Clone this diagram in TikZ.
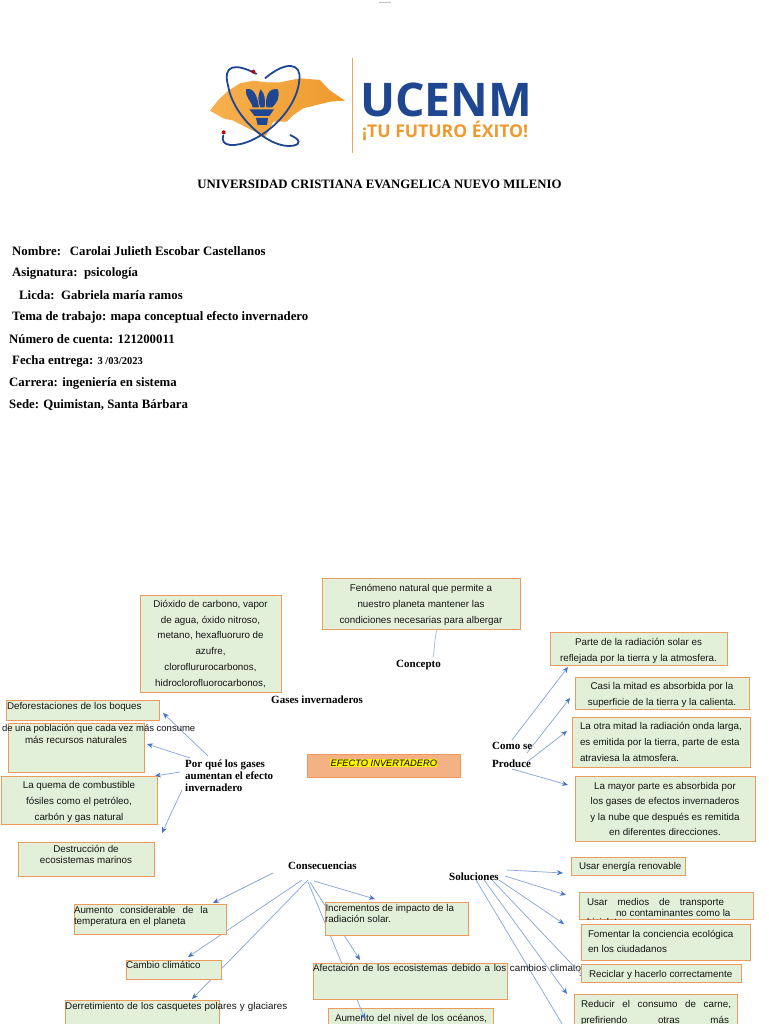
\documentclass[tikz,border=0pt]{standalone}
\usepackage{fontspec}
\setmainfont{Liberation Serif}
\newfontfamily\arialf{Liberation Sans}
\newfontfamily\logof{Open Sans}
\usetikzlibrary{arrows.meta}
\definecolor{boxfill}{HTML}{E2EFD9}
\definecolor{boxline}{HTML}{EE9A5D}
\definecolor{mainfill}{HTML}{F4B183}
\definecolor{arrowline}{HTML}{86A3DA}
\definecolor{arrowtip}{HTML}{4472C4}
\definecolor{logoblue}{HTML}{1F4690}
\definecolor{logoorange}{HTML}{EE9A2E}
\definecolor{logolight}{HTML}{F7B04E}
\definecolor{txtc}{HTML}{151515}
\tikzset{
  boxst/.style={draw=boxline,fill=boxfill,line width=.9pt,inner sep=0pt,outer sep=0pt,text=txtc},
  boldlab/.style={font=\fontsize{11}{11.6}\selectfont\bfseries,inner sep=0pt,text=black,align=left},
  headlab/.style={font=\fontsize{12.8}{14}\selectfont\bfseries,inner sep=0pt,anchor=west,text=black},
  looselab/.style={font=\arialf\fontsize{9.8}{12}\selectfont,inner sep=0pt,text=txtc},
  conn/.style={draw=arrowline,line width=.7pt,-{Stealth[length=6pt,width=5pt,color=arrowtip]}},
  plainconn/.style={draw=arrowline!70,line width=.8pt}
}
% name, x1,y1,x2,y2, first line centre y, line spacing, text
\newcommand\bx[8]{%
  \pgfmathsetmacro\bw{#4-#2}%
  \pgfmathsetmacro\bh{#5-#3}%
  \pgfmathsetmacro\bcx{(#2+#4)/2}%
  \pgfmathsetmacro\bcy{(#3+#5)/2}%
  \pgfmathsetmacro\boff{#6-#3+4.2-0.7*#7}%
  \node[boxst,minimum width=\bw pt,minimum height=\bh pt] (#1) at (\bcx,\bcy)
   {\begin{minipage}[c][\bh pt][t]{\bw pt}\arialf\fontsize{9.8}{#7}\selectfont\parindent=0pt\vspace*{\boff pt}#8\end{minipage}};%
}
\begin{document}
\begin{tikzpicture}[x=1pt,y=-1pt]
\clip (0,0) rectangle (768,1024);
\fill[white] (0,0) rectangle (768,1024);
\draw[gray!50,line width=.6pt] (379,2) -- (391,2);

% ---------- logo ----------
\begin{scope}[shift={(190pt,-50pt)},x=.3333pt,y=-.3333pt]
\shade[left color=logolight,right color=logoorange,draw=none]
 (60,182) -- (85,150) -- (115,122) -- (150,100) -- (190,92) -- (230,97) -- (270,97) -- (330,85) -- (390,90) -- (418,120) -- (465,152) -- (420,155) -- (380,165) -- (340,175) -- (310,195) -- (290,215) -- (250,215) -- (240,235) -- (225,262) -- (195,245) -- (165,230) -- (130,212) -- (100,205) -- cycle;
\draw[logoblue,line width=1.8pt] (200,72) .. controls (140,40) and (95,40) .. (115,110) .. controls (130,200) and (240,300) .. (310,287) .. controls (335,282) and (330,268) .. (300,255);
\draw[logoblue,line width=1.8pt] (225,85) .. controls (290,30) and (335,40) .. (328,90) .. controls (320,190) and (200,290) .. (120,285) .. controls (100,283) and (95,270) .. (100,255);
\fill[red!75!black] (190,65) circle (6);
\fill[red!75!black] (101,247) circle (6);
\fill[logoblue] (168,118) .. controls (190,112) and (202,135) .. (207,172) -- (188,172) .. controls (183,150) and (166,145) .. (168,118) -- cycle;
\fill[logoblue] (212,118) .. controls (203,135) and (203,150) .. (211,172) -- (224,172) .. controls (227,150) and (224,130) .. (212,118) -- cycle;
\fill[logoblue] (264,118) .. controls (235,112) and (225,140) .. (229,172) -- (247,172) .. controls (262,155) and (270,145) .. (264,118) -- cycle;
\fill[logoblue] (178,178) -- (252,178) -- (238,198) -- (194,198) -- cycle;
\fill[logoblue] (198,204) -- (234,204) -- (231,225) -- (203,225) -- cycle;
\end{scope}
\draw[logoorange!85!white,line width=1.3pt] (352.5,58) -- (352.5,153);
\node[inner sep=0pt,anchor=west,text=logoblue] (ucenm) at (360,100)
  {\logof\bfseries\fontsize{50}{50}\selectfont\resizebox{172pt}{!}{UCENM}};
\node[inner sep=0pt,anchor=west,text=logoorange] (lema) at (362,131)
  {\logof\bfseries\fontsize{17}{17}\selectfont\resizebox{166pt}{!}{¡TU FUTURO ÉXITO!}};

% ---------- header ----------
\node[font=\fontsize{12.8}{14}\selectfont\bfseries,inner sep=0pt,text=black] (titulo) at (379.5,184) {UNIVERSIDAD CRISTIANA EVANGELICA NUEVO MILENIO};
\node[headlab] (h1) at (12,251) {Nombre:\hspace{.7em}Carolai Julieth Escobar Castellanos};
\node[headlab] (h2) at (12,273) {Asignatura:\, psicología};
\node[headlab] (h3) at (19,295) {Licda:\, Gabriela maría ramos};
\node[headlab] (h4) at (12,317) {Tema de trabajo: mapa conceptual efecto invernadero};
\node[headlab] (h5) at (9,339) {Número de cuenta: 121200011};
\node[headlab] (h6) at (12,361) {Fecha entrega: {\fontsize{10.5}{12}\selectfont 3 /03/2023}};
\node[headlab] (h7) at (9,383) {Carrera: ingeniería en sistema};
\node[headlab] (h8) at (9,405) {Sede: Quimistan, Santa Bárbara};

% ---------- connector ends ----------
\coordinate (p0) at (208,756); \coordinate (d0) at (163,713);
\coordinate (p1) at (190,758); \coordinate (d1) at (147,744);
\coordinate (p2) at (180,772); \coordinate (d2) at (155,776);
\coordinate (p3) at (182,790); \coordinate (d3) at (162,833);
\coordinate (k0) at (437,630); \coordinate (k1) at (433,657);
\coordinate (c0) at (512,740); \coordinate (e0) at (568,667);
\coordinate (c1) at (527,753); \coordinate (e1) at (570,698);
\coordinate (c2) at (527,762); \coordinate (e2) at (567,731);
\coordinate (c3) at (512,769); \coordinate (e3) at (568,785);
\coordinate (q0) at (273,873); \coordinate (r0) at (213,903);
\coordinate (q1) at (302,880); \coordinate (r1) at (188,957);
\coordinate (q2) at (308,880); \coordinate (r2) at (192,999);
\coordinate (q3) at (314,881); \coordinate (r3) at (375,899);
\coordinate (q4) at (310,882); \coordinate (r4) at (360,960);
\coordinate (q5) at (308,882); \coordinate (r5) at (365,1019);
\coordinate (s0) at (507,870); \coordinate (t0) at (563,873);
\coordinate (s1) at (505,876); \coordinate (t1) at (566,895);
\coordinate (s2) at (499,880); \coordinate (t2) at (564,924);
\coordinate (s3) at (492,880); \coordinate (t3) at (585,978);
\coordinate (s4) at (484,880); \coordinate (t4) at (567,994);
\coordinate (s5) at (476,880); \coordinate (t5) at (570,1037);

% ---------- box under the last arrow ----------
\bx{nivel}{328}{1008}{493}{1050}{1017}{12}{\strut\hspace*{7pt}\makebox[152pt][s]{Aumento del nivel de los océanos,}}

% ---------- connectors ----------
\draw[conn] (p0) -- (d0);
\draw[conn] (p1) -- (d1);
\draw[conn] (p2) -- (d2);
\draw[conn] (p3) -- (d3);
\draw[plainconn] (k0) .. controls (434,640) and (435,648) .. (k1);
\draw[conn] (c0) -- (e0);
\draw[conn] (c1) -- (e1);
\draw[conn] (c2) -- (e2);
\draw[conn] (c3) -- (e3);
\draw[conn] (q0) -- (r0);
\draw[conn] (q1) -- (r1);
\draw[conn] (q2) -- (r2);
\draw[conn] (q3) -- (r3);
\draw[conn] (q4) -- (r4);
\draw[conn] (q5) -- (r5);
\draw[conn] (s0) -- (t0);
\draw[conn] (s1) -- (t1);
\draw[conn] (s2) -- (t2);
\draw[conn] (s4) -- (t4);
\draw[draw=arrowline,line width=.7pt] (s5) -- (t5);

% ---------- boxes ----------
\bx{concepto}{322}{578}{520}{629}{587}{16}{\centering\strut Fenómeno natural que permite a\\nuestro planeta mantener las\\condiciones necesarias para albergar\par}
\bx{gases}{140}{595}{281}{692}{603}{15.8}{\centering\strut Dióxido de carbono, vapor\\de agua, óxido nitroso,\\metano, hexafluoruro de\\azufre,\\cloroflururocarbonos,\\hidroclorofluorocarbonos,\par}
\bx{defo}{6}{700}{159}{720}{705}{12}{\strut\hspace*{1pt}Deforestaciones de los boques}
\bx{pobla}{8}{723}{144}{772}{739}{12}{\centering\strut más recursos naturales\par}
\node[looselab,anchor=east] (pobla1) at (195.5,729) {\fontsize{9.5}{12}\selectfont de una población que cada vez más consume};
\bx{quema}{1}{776}{157}{824}{784}{16}{\centering\strut La quema de combustible\\fósiles como el petróleo,\\carbón y gas natural\par}
\bx{destru}{18}{842}{154}{876}{848}{11}{\centering\strut Destrucción de\\ecosistemas marinos\par}

\bx{parte}{550}{632}{727}{665}{641}{16}{\centering\strut Parte de la radiación solar es\\reflejada por la tierra y la atmosfera.\par}
\bx{casi}{575}{677}{749}{709}{685}{16.5}{\centering\strut Casi la mitad es absorbida por la\\superficie de la tierra y la calienta.\par}
\bx{otra}{572}{717}{750}{767}{725}{16}{\strut\hspace*{8pt}La otra mitad la radiación onda larga,\\\hspace*{8pt}es emitida por la tierra, parte de esta\\\hspace*{8pt}atraviesa la atmosfera.}
\bx{mayor}{575}{776}{755}{841}{785}{15.5}{\centering\strut La mayor parte es absorbida por\\los gases de efectos invernaderos\\y la nube que después es remitida\\en diferentes direcciones.\par}
\bx{energia}{571}{857}{685}{875}{865}{12}{\strut\hspace*{8pt}Usar energía renovable}

\bx{medios}{579}{892}{753}{919}{901}{11.5}{\strut\hspace*{8pt}\makebox[137pt][s]{Usar medios de transporte}\\\hspace*{37pt}no contaminantes como la}
\begin{scope}
\clip (579,892) rectangle (753,919.5);
\node[looselab,anchor=west] (medios3) at (587,922) {bicicleta};
\end{scope}
\bx{aumento}{74}{904}{226}{934}{909}{11}{\strut\makebox[134pt][s]{Aumento considerable de la}\\temperatura en el planeta}
\bx{incre}{325}{902}{468}{935}{907}{11.5}{\strut\hspace*{0.5pt}Incrementos de impacto de la\\radiación solar.}
\bx{cambio}{126}{960}{221}{979}{964}{12}{\strut Cambio climático}
\bx{afecta}{313}{963}{507}{999}{967}{12}{}
\node[looselab,anchor=west] (afecta1) at (313,967.5) {\makebox[268pt][s]{Afectación de los ecosistemas debido a los cambios climato}};
\bx{fomenta}{581}{924}{750}{960}{933}{15.5}{\strut\hspace*{7pt}Fomentar la conciencia ecológica\\\hspace*{7pt}en los ciudadanos}
\draw[conn] (s3) -- (t3);
\bx{recicla}{581}{964}{741}{982}{973}{12}{\strut\hspace*{8pt}Reciclar y hacerlo correctamente}
\bx{reducir}{574}{994}{737}{1050}{1003}{16}{\strut\hspace*{7pt}\makebox[150pt][s]{Reducir el consumo de carne,}\\\hspace*{7pt}\makebox[148pt][s]{prefiriendo otras más}}
\bx{derreti}{65}{1000}{219}{1050}{1006}{12}{}
\node[looselab,anchor=west] (derreti1) at (65,1006.5) {\makebox[222pt][s]{Derretimiento de los casquetes polares y glaciares}};

% ---------- central node ----------
\node[draw=boxline,fill=mainfill,line width=.9pt,minimum width=153pt,minimum height=23pt,inner sep=0pt] (efecto) at (383.5,765.5) {};
\node[inner sep=.4pt,fill=yellow,text=black,anchor=west,font=\arialf\itshape\fontsize{9.3}{10}\selectfont] (efecto1) at (330,763) {EFECTO INVERTADERO};

% ---------- bold labels ----------
\node[boldlab,anchor=west] (lgases) at (271,700) {Gases invernaderos};
\node[boldlab,anchor=west] (lconcepto) at (396,665) {Concepto};
\node[boldlab,anchor=north west] (lporque) at (185,760) {Por qué los gases\\aumentan el efecto\\invernadero};
\node[boldlab,anchor=west] (lcomo) at (492,746) {Como se};
\node[boldlab,anchor=west] (lprod) at (492,764) {Produce};
\node[boldlab,anchor=west] (lcons) at (288,866) {Consecuencias};
\node[boldlab,anchor=west] (lsol) at (449,877) {Soluciones};
\end{tikzpicture}
\end{document}
